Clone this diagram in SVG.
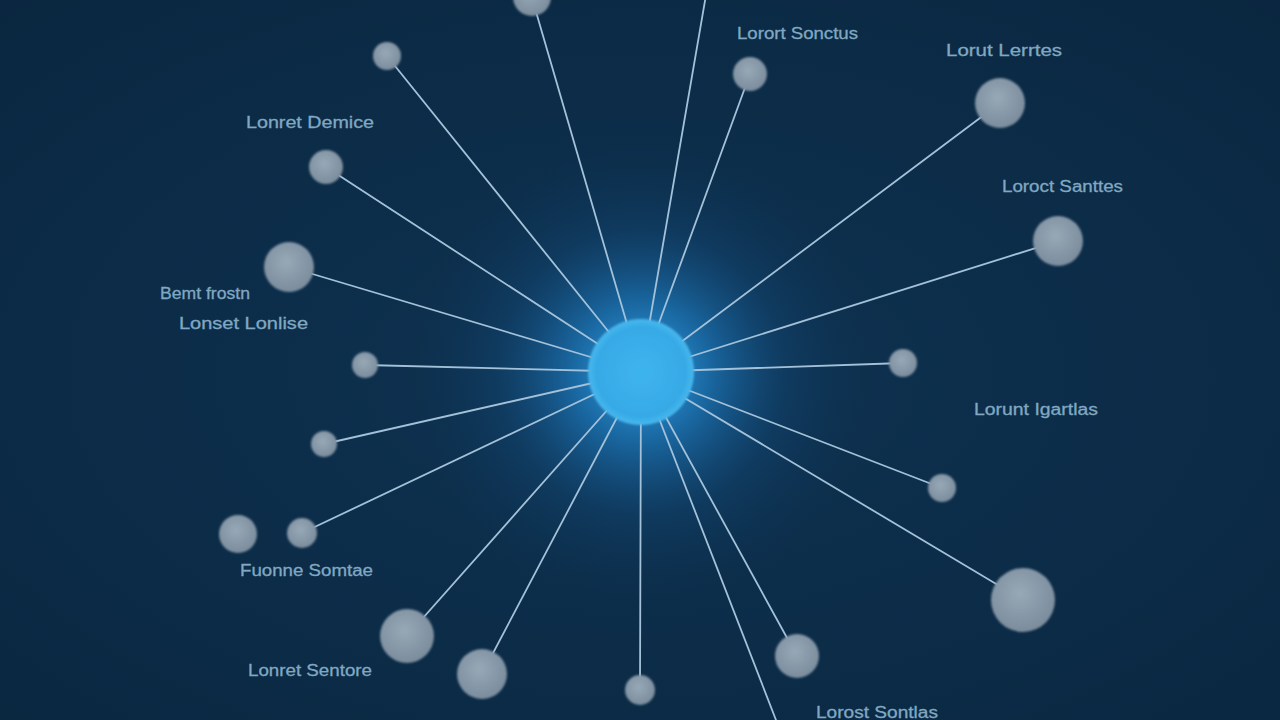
<svg xmlns="http://www.w3.org/2000/svg" width="1280" height="720" viewBox="0 0 1280 720">
<defs>
<radialGradient id="bg" cx="50%" cy="52%" r="75%">
<stop offset="0" stop-color="#0e3352"/>
<stop offset="1" stop-color="#0a263f"/>
</radialGradient>
<radialGradient id="glow" cx="641" cy="372" r="240" gradientUnits="userSpaceOnUse">
<stop offset="0" stop-color="#36a8ec" stop-opacity="1"/>
<stop offset="0.28" stop-color="#1f80c6" stop-opacity="0.7"/>
<stop offset="0.6" stop-color="#145287" stop-opacity="0.3"/>
<stop offset="1" stop-color="#0c2f50" stop-opacity="0"/>
</radialGradient>
<radialGradient id="hub" cx="50%" cy="50%" r="50%">
<stop offset="0" stop-color="#3fb4ee"/>
<stop offset="0.85" stop-color="#36aae6"/>
<stop offset="1" stop-color="#4ab8ee"/>
</radialGradient>
<radialGradient id="node" cx="45%" cy="40%" r="60%">
<stop offset="0" stop-color="#97a8b6"/>
<stop offset="1" stop-color="#7b8d9d"/>
</radialGradient>
<filter id="soft" x="-20%" y="-20%" width="140%" height="140%"><feGaussianBlur stdDeviation="0.8"/></filter>
</defs>
<style>
.c line{stroke:#a3c1d8;stroke-width:1.8;stroke-linecap:round}
.n circle{fill:url(#node);filter:url(#soft)}
.t{font-family:"Liberation Sans",Arial,sans-serif;font-size:16px;fill:#80a8c2;stroke:#80a8c2;stroke-width:0.3}
</style>
<rect width="1280" height="720" fill="url(#bg)"/>
<circle cx="641" cy="372" r="240" fill="url(#glow)"/>
<g class="c" id="connectors">
<line x1="641" y1="372" x2="532" y2="-2"/>
<line x1="641" y1="372" x2="387" y2="56"/>
<line x1="641" y1="372" x2="326" y2="167"/>
<line x1="641" y1="372" x2="289" y2="267"/>
<line x1="641" y1="372" x2="365" y2="365"/>
<line x1="641" y1="372" x2="324" y2="444"/>
<line x1="641" y1="372" x2="302" y2="533"/>
<line x1="641" y1="372" x2="407" y2="636"/>
<line x1="641" y1="372" x2="482" y2="674"/>
<line x1="641" y1="372" x2="640" y2="690"/>
<line x1="641" y1="372" x2="797" y2="656"/>
<line x1="641" y1="372" x2="776" y2="720"/>
<line x1="641" y1="372" x2="1023" y2="600"/>
<line x1="641" y1="372" x2="942" y2="488"/>
<line x1="641" y1="372" x2="903" y2="363"/>
<line x1="641" y1="372" x2="1058" y2="241"/>
<line x1="641" y1="372" x2="1000" y2="103"/>
<line x1="641" y1="372" x2="750" y2="74"/>
<line x1="641" y1="372" x2="706" y2="-5"/>
</g>
<g id="hub"><circle cx="641" cy="372" r="53" fill="url(#hub)" filter="url(#soft)"/></g>
<g class="n">
<g id="n1"><circle cx="532" cy="-3" r="19"/></g>
<g id="n2"><circle cx="387" cy="56" r="14"/></g>
<g id="n3"><circle cx="326" cy="167" r="17"/></g>
<g id="n4"><circle cx="289" cy="267" r="25"/></g>
<g id="n5"><circle cx="365" cy="365" r="13"/></g>
<g id="n6"><circle cx="324" cy="444" r="13"/></g>
<g id="n7"><circle cx="302" cy="533" r="15"/></g>
<g id="n8"><circle cx="238" cy="534" r="19"/></g>
<g id="n9"><circle cx="407" cy="636" r="27"/></g>
<g id="n10"><circle cx="482" cy="674" r="25"/></g>
<g id="n11"><circle cx="640" cy="690" r="15"/></g>
<g id="n12"><circle cx="797" cy="656" r="22"/></g>
<g id="n13"><circle cx="1023" cy="600" r="32"/></g>
<g id="n14"><circle cx="942" cy="488" r="14"/></g>
<g id="n15"><circle cx="903" cy="363" r="14"/></g>
<g id="n16"><circle cx="1058" cy="241" r="25"/></g>
<g id="n17"><circle cx="1000" cy="103" r="25"/></g>
<g id="n18"><circle cx="750" cy="74" r="17"/></g>
</g>
<g id="labels">
<text class="t" x="737" y="39" textLength="121" lengthAdjust="spacingAndGlyphs">Lorort Sonctus</text>
<text class="t" x="946" y="56" textLength="116" lengthAdjust="spacingAndGlyphs">Lorut Lerrtes</text>
<text class="t" x="246" y="128" textLength="128" lengthAdjust="spacingAndGlyphs">Lonret Demice</text>
<text class="t" x="1002" y="192" textLength="121" lengthAdjust="spacingAndGlyphs">Loroct Santtes</text>
<text class="t" x="160" y="299" textLength="90" lengthAdjust="spacingAndGlyphs">Bemt frostn</text>
<text class="t" x="179" y="329" textLength="129" lengthAdjust="spacingAndGlyphs">Lonset Lonlise</text>
<text class="t" x="974" y="415" textLength="124" lengthAdjust="spacingAndGlyphs">Lorunt Igartlas</text>
<text class="t" x="240" y="576" textLength="133" lengthAdjust="spacingAndGlyphs">Fuonne Somtae</text>
<text class="t" x="248" y="676" textLength="124" lengthAdjust="spacingAndGlyphs">Lonret Sentore</text>
<text class="t" x="816" y="718" textLength="122" lengthAdjust="spacingAndGlyphs">Lorost Sontlas</text>
</g>
</svg>
